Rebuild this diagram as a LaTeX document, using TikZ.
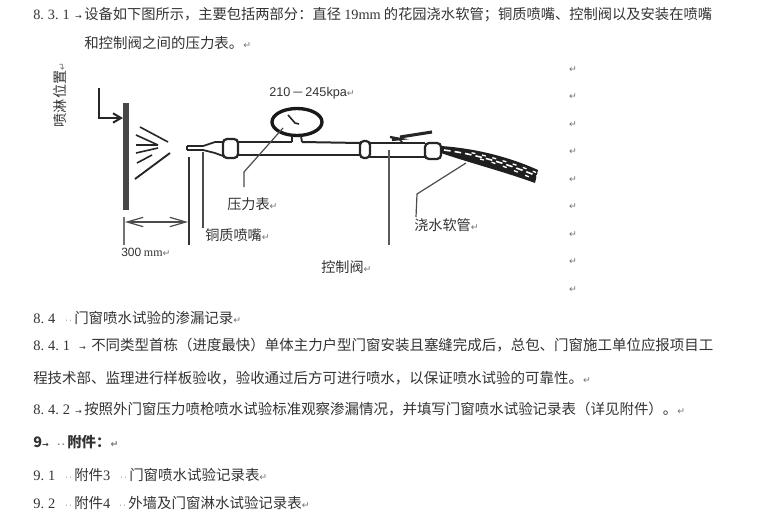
\documentclass[tikz,border=0pt]{standalone}
\usepackage{fontspec}
\usetikzlibrary{arrows.meta}
\setmainfont{Noto Sans CJK SC}
\newfontfamily\cjkf{Noto Sans CJK SC}
\newfontfamily\latinf{Liberation Serif}
\newfontfamily\sansf{Liberation Sans}
\newfontfamily\symf{DejaVu Sans}
\newcommand{\ret}{{\symf\fontsize{7}{7}\selectfont\color{black!55}↵}}
\newcommand{\arr}{{\symf\fontsize{6}{6}\selectfont →}}
\newcommand{\nm}[1]{{\latinf #1}}
\newcommand{\dd}{{\symf\fontsize{6}{6}\selectfont\color{black!50}·\,·}}
% px to pt: prefix of a given width in picture pixels
\newcommand{\pre}[2]{\makebox[#1\dimexpr 0.75pt\relax][l]{#2}}
\definecolor{ink}{gray}{0.2}
\tikzset{
  bodytext/.style={anchor=west,inner sep=0pt,text=ink,font=\fontsize{10.85}{11}\selectfont},
  label/.style={anchor=west,inner sep=0pt,text=ink,font=\fontsize{10.6}{11}\selectfont},
  pipe/.style={line width=1.5pt,black!85},
  coupling/.style={line width=1.7pt,black!85,rounded corners=3pt},
  thin line/.style={line width=0.9pt,black!70},
  spray/.style={line width=1.2pt,black!85},
  retmark/.style={anchor=center,inner sep=0pt}
}
\begin{document}
\begin{tikzpicture}[x=0.75pt,y=-0.75pt]
\useasboundingbox (0,0) rectangle (760,518);
\fill[white] (0,0) rectangle (760,518);
% body text
\node[bodytext,font=\fontsize{10.7}{11}\selectfont] (l1) at (33,15) {\pre{51}{\nm{8.\;3.\;1}\hfill\arr\,}设备如下图所示，主要包括两部分：直径 \nm{19mm} 的花园浇水软管；铜质喷嘴、控制阀以及安装在喷嘴};
\node[bodytext] (l2) at (84,43) {和控制阀之间的压力表。\ret};
\node[bodytext] (l3) at (33,318) {\pre{41}{\nm{8.\;4}\hfill\dd\,}门窗喷水试验的渗漏记录\ret};
\node[bodytext] (l4) at (33,345) {\pre{58}{\nm{8.\;4.\;1}\hfill\arr\hspace{4pt}}不同类型首栋（进度最快）单体主力户型门窗安装且塞缝完成后，总包、门窗施工单位应报项目工};
\node[bodytext] (l5) at (33,378) {程技术部、监理进行样板验收，验收通过后方可进行喷水，以保证喷水试验的可靠性。\ret};
\node[bodytext] (l6) at (33,409) {\pre{51}{\nm{8.\;4.\;2}\hfill\arr\,}按照外门窗压力喷枪喷水试验标准观察渗漏情况，并填写门窗喷水试验记录表（详见附件）。\ret};
\node[bodytext,font=\fontsize{10.85}{11}\selectfont\bfseries] (l7) at (33,442) {\pre{34}{9\arr\hfill\dd\,}附件：\ret};
\node[bodytext] (l8) at (33,475) {\pre{41}{\nm{9.\;1}\hfill\dd\,}\pre{33}{附件\hfill\nm{3}}\pre{22}{\hfill\dd\,}门窗喷水试验记录表\ret};
\node[bodytext] (l9) at (33,503) {\pre{41}{\nm{9.\;2}\hfill\dd\,}\pre{33}{附件\hfill\nm{4}}\pre{21}{\hfill\dd\,}外墙及门窗淋水试验记录表\ret};
% return marks column
\foreach \yy in {70,97,125,152,180,207,235,262,290}
  \node[retmark] at (573,\yy) {\ret};
% vertical label
\node[inner sep=0pt,text=ink,font=\fontsize{10.6}{11}\selectfont,rotate=90] (vlabel) at (60,95) {喷淋位置\ret};
% wall
\coordinate (wt) at (126,103);
\coordinate (wb) at (126,210);
\draw[line width=3.8pt,black!72] (wt) -- (wb);
% position arrow
\coordinate (pa) at (99,88);
\coordinate (pb) at (99,118);
\coordinate (pc) at (123,118);
\draw[line width=1.5pt,black!85,-{Straight Barb[length=6pt,width=7pt]}] (pa) -- (pb) -- (pc);
% spray
\draw[spray] (140,127)--(168,142);
\draw[spray] (136,135)--(158,145);
\draw[spray] (136,145)--(158,145);
\draw[spray] (136,153)--(158,148);
\draw[spray] (137,163)--(152,155);
\draw[line width=1.4pt,black!85] (135,179)--(170,153);
% nozzle
\draw[line width=1.3pt,black!85] (187,146) -- (203,146) -- (215,142) -- (223,142);
\draw[line width=1.3pt,black!85] (187,150) -- (203,150) -- (215,153) -- (223,156);
\draw[line width=1.3pt,black!85] (187,146) -- (187,150);
% pipe and couplings
\draw[coupling] (223,139) rectangle (238,158);
\draw[pipe] (238,142) -- (292,142);
\draw[pipe] (302,142) -- (360,143);
\draw[pipe] (238,155) -- (360,155);
\draw[coupling] (360,141) rectangle (370,158);
\draw[pipe] (370,143) -- (425,143);
\draw[pipe] (370,157) -- (425,157);
\draw[coupling] (425,143) rectangle (441,159);
% gauge
\coordinate (gc) at (297,122);
\draw[line width=2.5pt,black!90] (gc) circle [x radius=25, y radius=13.5];
\draw[line width=1.2pt,black!85] (288,115) -- (295,123) -- (299,124);
\draw[line width=1.4pt,black!85] (292,136) -- (292,142) (301,136) -- (302,142);
% valve handle
\draw[line width=1.7pt,black!85] (390,137) -- (401,139) -- (392,140);
\draw[line width=2.3pt,black!85] (400,137) -- (432,132);
\draw[line width=1.3pt,black!85] (399,139) -- (403,143);
% hose
\fill[black!88] (441,146) .. controls (470,148) and (505,155) .. (538,170)
   -- (535,183) .. controls (505,172) and (470,163) .. (441,153) -- cycle;
\draw[white,line width=1.2pt,dash pattern=on 5pt off 3pt] (444,150) .. controls (475,154) and (505,163) .. (537,176);
\draw[white,line width=1pt,dash pattern=on 3pt off 5pt,dash phase=3pt] (465,151.5) .. controls (485,155) and (510,162) .. (536,172.5);
\draw[white,line width=1pt,dash pattern=on 3pt off 6pt] (480,159) .. controls (497,163) and (515,171) .. (534,179);
% leaders
\coordinate (gl1) at (283,128);
\coordinate (gl2) at (244,172);
\coordinate (gl3) at (244,187);
\draw[thin line] (gl1) -- (gl2) -- (gl3);
\coordinate (cn1) at (203,152);
\coordinate (cn2) at (203,228);
\draw[thin line] (cn1) -- (cn2);
\coordinate (cv1) at (389,150);
\coordinate (cv2) at (389,245);
\draw[line width=1.2pt,black!65] (cv1) -- (cv2);
\coordinate (hl1) at (466,163);
\coordinate (hl2) at (417,194);
\coordinate (hl3) at (416,217);
\draw[thin line] (hl1) -- (hl2) -- (hl3);
% dimension
\coordinate (d1) at (124,217);
\coordinate (d1b) at (124,245);
\coordinate (d2) at (189,157);
\coordinate (d2b) at (189,245);
\draw[line width=0.8pt,black!55] (d1) -- (d1b);
\draw[line width=1.1pt,black!80] (d2) -- (d2b);
\draw[line width=0.9pt,black!70,{Straight Barb[length=12pt,width=7pt]}-{Straight Barb[length=12pt,width=7pt]}] (125,222) -- (188,222);
% labels
\node[label,font=\sansf\fontsize{9.5}{10}\selectfont] (pr) at (269,93) {210\makebox[15\dimexpr 0.75pt\relax][c]{\cjkf\fontsize{7.5}{8}\selectfont 一}245kpa\ret};
\node[label] (gauge) at (227,204) {压力表\ret};
\node[label] (noz) at (205,235) {铜质喷嘴\ret};
\node[label,font=\fontsize{9}{10}\selectfont] (dim) at (121,252) {{\sansf 300} \nm{mm}\ret};
\node[label] (hose) at (414,225) {浇水软管\ret};
\node[label] (valve) at (321,267) {控制阀\ret};
\end{tikzpicture}
\end{document}
